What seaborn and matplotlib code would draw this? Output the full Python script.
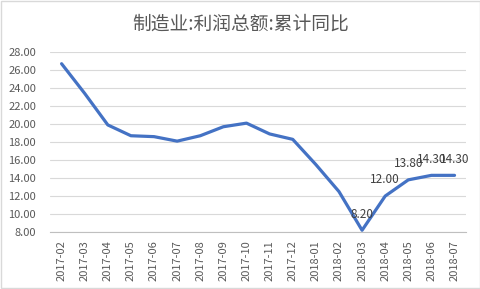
import matplotlib
matplotlib.use("Agg")
import matplotlib.pyplot as plt
import seaborn as sns
import numpy as np
import pandas as pd

# 月份与累计同比数据
meses = ["2017-02", "2017-03", "2017-04", "2017-05", "2017-06", "2017-07",
         "2017-08", "2017-09", "2017-10", "2017-11", "2017-12", "2018-01",
         "2018-02", "2018-03", "2018-04", "2018-05", "2018-06", "2018-07"]
valores = [26.7, 23.4, 19.9, 18.7, 18.6, 18.1, 18.7, 19.7, 20.1, 18.9,
           18.3, 15.5, 12.5, 8.2, 12.0, 13.8, 14.3, 14.3]
y_ticks = [8, 10, 12, 14, 16, 18, 20, 22, 24, 26, 28]

df = pd.DataFrame({"mes": meses, "valor": valores})
df["x"] = np.arange(len(df))

sns.set_theme(style="white")
plt.rcParams["font.family"] = ["Noto Sans CJK SC", "DejaVu Sans"]

fig = plt.figure(figsize=(4.81, 2.89), dpi=100)
ax = fig.add_axes([0.104, 0.197, 0.865, 0.623])

sns.lineplot(data=df, x="x", y="valor", ax=ax, color="#4472C4", linewidth=2.3)

# etiquetas en los últimos 5 puntos
for _, fila in df.tail(5).iterrows():
    ax.annotate(f"{fila['valor']:.2f}", (fila["x"], fila["valor"]),
                xytext=(0, 7), textcoords="offset points", ha="center",
                va="bottom", fontsize=8.5, color="#404040")

ax.set_xlim(-0.5, len(meses) - 0.5)
ax.set_ylim(8, 28)
ax.set_yticks(y_ticks)
ax.set_yticklabels([f"{v:.2f}" for v in y_ticks], fontsize=8, color="#595959")
ax.set_xticks(df["x"])
ax.set_xticklabels(meses, rotation=90, fontsize=8, color="#595959")
ax.set_xticks(np.arange(-0.5, len(meses)), minor=True)
ax.tick_params(axis="x", which="major", length=0, pad=6)
ax.tick_params(axis="x", which="minor", length=4, color="#bfbfbf", width=0.8)
ax.tick_params(axis="y", length=0, pad=10)
ax.yaxis.grid(True, color="#d9d9d9", linewidth=0.8)
ax.set_axisbelow(True)
for lado in ["top", "right", "left"]:
    ax.spines[lado].set_visible(False)
ax.spines["bottom"].set_color("#bfbfbf")
ax.spines["bottom"].set_linewidth(0.8)
ax.set_xlabel("")
ax.set_ylabel("")

fig.text(0.5, 0.915, "制造业:利润总额:累计同比", ha="center", va="center",
         fontsize=13.5, color="#595959")

borde = plt.Rectangle((0.002, 0.003), 0.996, 0.994, transform=fig.transFigure,
                      fill=False, edgecolor="#d9d9d9", linewidth=1)
fig.patches.append(borde)

fig.savefig("out.png", dpi=100)
